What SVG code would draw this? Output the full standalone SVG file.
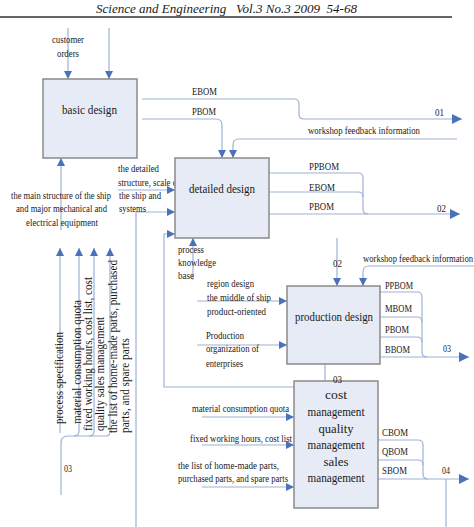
<svg xmlns="http://www.w3.org/2000/svg" width="474" height="527" viewBox="0 0 474 527">
<style>
text{font-family:"Liberation Serif","Times New Roman",serif;fill:#1a1a1a;}
.t{font-size:13px;}
.s{font-size:11px;}
.r{font-size:12px;}
.c{text-anchor:middle;}
.box{fill:#e7ebf5;stroke:#8a8a8a;stroke-width:1.5;}
.ln{fill:none;stroke:#9fb1d6;stroke-width:1.2;}
.ar{marker-end:url(#a);}
.ab{marker-end:url(#b);}
</style>
<defs>
<marker id="a" viewBox="0 0 10 10" refX="10" refY="5" markerWidth="8" markerHeight="8" markerUnits="userSpaceOnUse" orient="auto"><path d="M0,0L10,5L0,10z" fill="#4a72bb"/></marker>
<marker id="b" viewBox="0 0 10 10" refX="10" refY="5" markerWidth="11" markerHeight="10" markerUnits="userSpaceOnUse" orient="auto"><path d="M0,0L10,5L0,10z" fill="#4a72bb"/></marker>
</defs>
<rect width="474" height="527" fill="#fff"/>
<g id="header">
<text x="96" y="13" font-style="italic" style="font-size:13px;white-space:pre" textLength="261" lengthAdjust="spacingAndGlyphs">Science and Engineering   Vol.3 No.3 2009  54-68</text>
<line x1="0" y1="17" x2="452" y2="17" stroke="#333" stroke-width="1.5"/>
</g>
<g id="connectors">
<path class="ln ar" d="M68 28V79"/>
<path class="ln ar" d="M109 28V79"/>
<path class="ln ar" d="M61 230V158"/>
<path class="ln ab" d="M142 99H294Q299 99 299 104V114Q299 119 304 119H462"/>
<path class="ln ar" d="M142 119H216Q222 119 222 125V158"/>
<path class="ln ar" d="M457 139H239Q233 139 233 145V158"/>
<path class="ln ar" d="M118 190H175"/>
<path class="ln ar" d="M136 527V212H175"/>
<path class="ln ar" d="M325 364V387H164V234H175"/>
<path class="ln ar" d="M193 280V238"/>
<path class="ln" d="M269 173H358Q363 173 363 178V209Q363 214 368 214"/>
<path class="ln" d="M269 192H358Q363 192 363 197"/>
<path class="ln ab" d="M269 214H460"/>
<path class="ln ar" d="M337 238V286"/>
<path class="ln ar" d="M474 266H369Q363 266 363 272V286"/>
<path class="ln ar" d="M197 301H287"/>
<path class="ln ar" d="M197 345H287"/>
<path class="ln" d="M380 292H417Q422 292 422 297V352Q422 357 427 357"/>
<path class="ln" d="M380 317H417Q422 317 422 322"/>
<path class="ln" d="M380 337H417Q422 337 422 342"/>
<path class="ln ab" d="M380 357H469"/>
<path class="ln ar" d="M202 417H294"/>
<path class="ln ar" d="M202 445H294"/>
<path class="ln ar" d="M202 487H294"/>
<path class="ln" d="M378 440H418Q423 440 423 445V474Q423 479 428 479"/>
<path class="ln" d="M378 460H418Q423 460 423 465"/>
<path class="ln ab" d="M378 479H469"/>
<path class="ln" d="M446 479V527"/>
<path class="ln ar" d="M60 433V248"/>
<path class="ln" d="M61 495V443Q61 436 68 436H106Q110 436 110 431"/>
<path class="ln ar" d="M110 432V248"/>
<path class="ln ar" d="M74 436Q79 436 79 431V248"/>
<path class="ln ar" d="M89 436Q94 436 94 431V248"/>
</g>
<g id="labels">
<text class="s" x="52" y="43" textLength="32" lengthAdjust="spacingAndGlyphs">customer</text>
<text class="s" x="57" y="57" textLength="22" lengthAdjust="spacingAndGlyphs">orders</text>
<text class="s" x="192" y="95" textLength="25" lengthAdjust="spacingAndGlyphs">EBOM</text>
<text class="s" x="192" y="115" textLength="24" lengthAdjust="spacingAndGlyphs">PBOM</text>
<text class="s" x="435" y="116" textLength="9" lengthAdjust="spacingAndGlyphs">01</text>
<text class="s" x="308" y="134" textLength="112" lengthAdjust="spacingAndGlyphs">workshop feedback information</text>
<text class="s" x="118" y="172" textLength="41" lengthAdjust="spacingAndGlyphs">the detailed</text>
<text class="s" x="118" y="186" textLength="62" lengthAdjust="spacingAndGlyphs">structure, scale of</text>
<text class="s" x="119" y="199" textLength="42" lengthAdjust="spacingAndGlyphs">the ship and</text>
<text class="s" x="119" y="212" textLength="27" lengthAdjust="spacingAndGlyphs">systems</text>
<text class="s" x="11" y="199" textLength="100" lengthAdjust="spacingAndGlyphs">the main structure of the ship</text>
<text class="s" x="16" y="212" textLength="91" lengthAdjust="spacingAndGlyphs">and major mechanical and</text>
<text class="s" x="26" y="226" textLength="72" lengthAdjust="spacingAndGlyphs">electrical equipment</text>
<text class="s" x="309" y="170" textLength="30" lengthAdjust="spacingAndGlyphs">PPBOM</text>
<text class="s" x="309" y="191" textLength="26" lengthAdjust="spacingAndGlyphs">EBOM</text>
<text class="s" x="309" y="210" textLength="25" lengthAdjust="spacingAndGlyphs">PBOM</text>
<text class="s" x="437" y="212" textLength="9" lengthAdjust="spacingAndGlyphs">02</text>
<text class="s" x="178" y="253" textLength="26" lengthAdjust="spacingAndGlyphs">process</text>
<text class="s" x="178" y="266" textLength="38" lengthAdjust="spacingAndGlyphs">knowledge</text>
<text class="s" x="178" y="279" textLength="16" lengthAdjust="spacingAndGlyphs">base</text>
<text class="s" x="333" y="267" textLength="9" lengthAdjust="spacingAndGlyphs">02</text>
<text class="s" x="363" y="262" textLength="110" lengthAdjust="spacingAndGlyphs">workshop feedback information</text>
<text class="s" x="207" y="287" textLength="47" lengthAdjust="spacingAndGlyphs">region design</text>
<text class="s" x="207" y="301" textLength="64" lengthAdjust="spacingAndGlyphs">the middle of ship</text>
<text class="s" x="207" y="315" textLength="59" lengthAdjust="spacingAndGlyphs">product-oriented</text>
<text class="s" x="206" y="339" textLength="38" lengthAdjust="spacingAndGlyphs">Production</text>
<text class="s" x="206" y="352" textLength="53" lengthAdjust="spacingAndGlyphs">organization of</text>
<text class="s" x="206" y="367" textLength="37" lengthAdjust="spacingAndGlyphs">enterprises</text>
<text class="s" x="385" y="289" textLength="28" lengthAdjust="spacingAndGlyphs">PPBOM</text>
<text class="s" x="385" y="312" textLength="27" lengthAdjust="spacingAndGlyphs">MBOM</text>
<text class="s" x="385" y="333" textLength="24" lengthAdjust="spacingAndGlyphs">PBOM</text>
<text class="s" x="385" y="353" textLength="25" lengthAdjust="spacingAndGlyphs">BBOM</text>
<text class="s" x="443" y="352" textLength="8" lengthAdjust="spacingAndGlyphs">03</text>
<text class="s" x="192" y="412" textLength="97" lengthAdjust="spacingAndGlyphs">material consumption quota</text>
<text class="s" x="190" y="442" textLength="102" lengthAdjust="spacingAndGlyphs">fixed working hours, cost list</text>
<text class="s" x="178" y="469" textLength="101" lengthAdjust="spacingAndGlyphs">the list of home-made parts,</text>
<text class="s" x="178" y="482" textLength="110" lengthAdjust="spacingAndGlyphs">purchased parts, and spare parts</text>
<text class="s" x="382" y="436" textLength="26" lengthAdjust="spacingAndGlyphs">CBOM</text>
<text class="s" x="382" y="455" textLength="26" lengthAdjust="spacingAndGlyphs">QBOM</text>
<text class="s" x="382" y="474" textLength="25" lengthAdjust="spacingAndGlyphs">SBOM</text>
<text class="s" x="442" y="474" textLength="8" lengthAdjust="spacingAndGlyphs">04</text>
<text class="s" x="64" y="472" textLength="8" lengthAdjust="spacingAndGlyphs">03</text>
<text class="r" transform="translate(63,424) rotate(-90)" textLength="92" lengthAdjust="spacingAndGlyphs">process specification</text>
<text class="r" transform="translate(81,424) rotate(-90)" textLength="124" lengthAdjust="spacingAndGlyphs">material consumption quota</text>
<text class="r" transform="translate(92,431) rotate(-90)" textLength="154" lengthAdjust="spacingAndGlyphs">fixed working hours, cost list, cost</text>
<text class="r" transform="translate(104,431) rotate(-90)" textLength="114" lengthAdjust="spacingAndGlyphs">quality sales management</text>
<text class="r" transform="translate(117,433) rotate(-90)" textLength="173" lengthAdjust="spacingAndGlyphs">the list of home-made parts, purchased</text>
<text class="r" transform="translate(129,433) rotate(-90)" textLength="95" lengthAdjust="spacingAndGlyphs">parts, and spare parts</text>
</g>
<g id="basic-design">
<rect class="box" x="43" y="79" width="94" height="79"/>
<text class="t" x="62" y="114" textLength="55" lengthAdjust="spacingAndGlyphs">basic design</text>
</g>
<g id="detailed-design">
<rect class="box" x="175" y="158" width="94" height="80"/>
<text class="t" x="189" y="193" textLength="66" lengthAdjust="spacingAndGlyphs">detailed design</text>
</g>
<g id="production-design">
<rect class="box" x="287" y="286" width="93" height="78"/>
<text class="t" x="295" y="321" textLength="78" lengthAdjust="spacingAndGlyphs">production design</text>
</g>
<g id="cost-management">
<rect class="box" x="294" y="381" width="84" height="127"/>
<text class="s" x="333" y="383" textLength="9" lengthAdjust="spacingAndGlyphs">03</text>
<text class="t c" x="336" y="399" textLength="22" lengthAdjust="spacingAndGlyphs">cost</text>
<text class="t c" x="336" y="416" textLength="57" lengthAdjust="spacingAndGlyphs">management</text>
<text class="t c" x="336" y="433" textLength="35" lengthAdjust="spacingAndGlyphs">quality</text>
<text class="t c" x="336" y="449" textLength="57" lengthAdjust="spacingAndGlyphs">management</text>
<text class="t c" x="336" y="466" textLength="25" lengthAdjust="spacingAndGlyphs">sales</text>
<text class="t c" x="336" y="482" textLength="57" lengthAdjust="spacingAndGlyphs">management</text>
</g>
</svg>
